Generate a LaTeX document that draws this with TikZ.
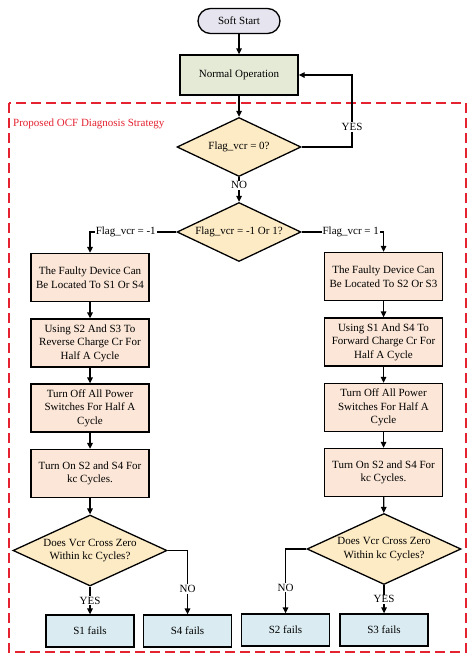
\documentclass[tikz,border=0pt]{standalone}
\usepackage{fontspec}
\setmainfont{Liberation Serif}
\usetikzlibrary{shapes.geometric,arrows.meta}
\definecolor{softfill}{HTML}{E6E4EE}
\definecolor{greenfill}{HTML}{E4EAD6}
\definecolor{peachfill}{HTML}{FBE6D7}
\definecolor{diafill}{HTML}{FDEBC5}
\definecolor{bluefill}{HTML}{DAECF2}
\definecolor{dashred}{HTML}{E42230}
\begin{document}
\begin{tikzpicture}[x=1pt,y=-1pt,
  base/.style={draw=black,line width=1.3pt,inner sep=0pt,align=center,font=\fontsize{11}{13.5}\selectfont},
  startbox/.style={base,rectangle,rounded corners=12.5pt,fill=softfill,minimum width=82pt,minimum height=25pt},
  normbox/.style={base,rectangle,fill=greenfill,minimum width=118pt,minimum height=40pt},
  proc/.style={base,rectangle,fill=peachfill,minimum width=118pt,minimum height=48pt},
  decide/.style={base,diamond,aspect=2.1,fill=diafill},
  result/.style={base,rectangle,fill=bluefill,minimum width=88pt,minimum height=32pt},
  arr/.style={line width=1.3pt,-{Triangle[length=6pt,width=5.5pt]}},
  lbl/.style={fill=white,inner sep=1pt,font=\fontsize{11}{13}\selectfont}
]
\useasboundingbox (0,0) rectangle (474,659);
\fill[white] (0,0) rectangle (474,659);

% dashed region
\draw[dashred,line width=1.3pt,dash pattern=on 10pt off 5pt] (9,103) rectangle (466,652);
\node[anchor=west,inner sep=0pt,text=dashred,font=\fontsize{11}{13}\selectfont] (title) at (13,124) {Proposed OCF Diagnosis Strategy};

% nodes
\node[startbox] (start) at (239,21) {Soft Start};
\node[normbox] (norm) at (239,75) {Normal Operation};
\node[decide,minimum width=124pt,minimum height=59pt] (d1) at (239,147) {Flag\_vcr = 0?};
\node[decide,minimum width=124pt,minimum height=59pt] (d2) at (239,232) {Flag\_vcr = -1 Or 1?};

\node[proc] (l1) at (90,277.5) {The Faulty Device Can\\Be Located To S1 Or S4};
\node[proc] (l2) at (90,343) {Using S2 And S3 To\\Reverse Charge Cr For\\Half A Cycle};
\node[proc] (l3) at (90,408) {Turn Off All Power\\Switches For Half A\\Cycle};
\node[proc] (l4) at (90,473.5) {Turn On S2 and S4 For\\kc Cycles.};

\node[proc] (r1) at (383.5,276.5) {The Faulty Device Can\\Be Located To S2 Or S3};
\node[proc] (r2) at (383.5,342) {Using S1 And S4 To\\Forward Charge Cr For\\Half A Cycle};
\node[proc] (r3) at (383.5,407.5) {Turn Off All Power\\Switches For Half A\\Cycle};
\node[proc] (r4) at (383.5,472.5) {Turn On S2 and S4 For\\kc Cycles.};

\node[decide,aspect=2.2,minimum width=154pt,minimum height=71pt] (ld) at (90,550.5) {Does Vcr Cross Zero\\Within kc Cycles?};
\node[decide,aspect=2.2,minimum width=154pt,minimum height=71pt] (rd) at (384,549) {Does Vcr Cross Zero\\Within kc Cycles?};

\node[result] (s1) at (90,631) {S1 fails};
\node[result] (s4) at (187.5,631) {S4 fails};
\node[result] (s2) at (285.5,630) {S2 fails};
\node[result] (s3) at (384,630) {S3 fails};

% connectors
\draw[arr] (start) -- (norm);
\draw[arr] (norm) -- (d1);
\coordinate (loop) at (352,147);
\draw[arr] (d1.east) -- (loop) -- node[lbl,pos=0.28]{YES} (loop |- norm.east) -- (norm.east);
\draw[arr] (d1.south) -- node[lbl,pos=0.33]{NO} (d2.north);

\draw[arr] (d2.west) -- node[lbl,pos=0.586]{Flag\_vcr = -1} (d2.west -| l1.north) -- (l1.north);
\draw[arr] (d2.east) -- node[lbl,pos=0.6]{Flag\_vcr = 1} (d2.east -| r1.north) -- (r1.north);

\draw[arr] (l1) -- (l2);
\draw[arr] (l2) -- (l3);
\draw[arr] (l3) -- (l4);
\draw[arr] (l4) -- (ld);
\draw[arr] (r1) -- (r2);
\draw[arr] (r2) -- (r3);
\draw[arr] (r3) -- (r4);
\draw[arr] (r4) -- (rd);

\draw[arr] (ld.south) -- node[lbl]{YES} (s1.north);
\draw[arr] (ld.east) -| node[lbl,pos=0.8]{NO} (s4.north);
\draw[arr] (rd.west) -| node[lbl,pos=0.8]{NO} (s2.north);
\draw[arr] (rd.south) -- node[lbl]{YES} (s3.north);
\end{tikzpicture}
\end{document}
